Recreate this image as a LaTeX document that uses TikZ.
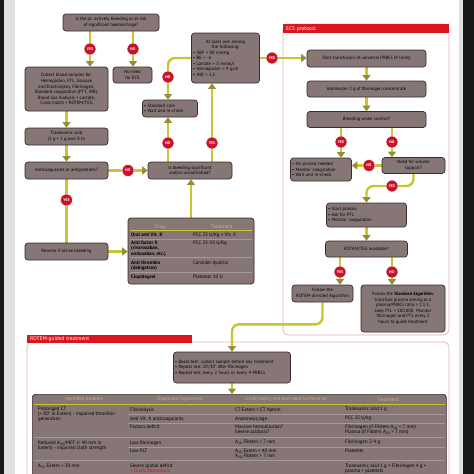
\documentclass[tikz,border=0pt]{standalone}
\usepackage{fontspec}
\setmainfont{PT Sans}
\usepackage{xcolor}
\usetikzlibrary{
	arrows.meta,
	positioning,
	calc,
	backgrounds
}

\definecolor{boxfill}{RGB}{134,119,118}
\definecolor{boxedge}{RGB}{58,44,44}
\definecolor{flowyel}{RGB}{200,198,46}
\definecolor{flowdark}{RGB}{146,144,52}
\definecolor{ynred}{RGB}{200,20,40}
\definecolor{panelred}{RGB}{220,22,32}
\definecolor{panelline}{RGB}{226,170,170}
\definecolor{hdrtext}{RGB}{200,186,112}
\definecolor{rulegray}{RGB}{165,152,150}

\newcommand{\boxfont}{\fontsize{4.6}{5.5}\selectfont}
\newcommand{\tabfont}{\fontsize{4.9}{5.2}\selectfont}

\begin{document}
\begin{tikzpicture}[
	x=1pt, y=-1pt,
	box/.style={
		rectangle,
		rounded corners=3pt,
		draw=boxedge,
		fill=boxfill,
		line width=0.7pt,
		inner sep=1.5pt,
		align=center,
		font=\boxfont
	},
	ynball/.style={
		circle,
		fill=ynred,
		draw=white,
		line width=0.5pt,
		minimum size=12pt,
		inner sep=0pt,
		text=white,
		font=\fontsize{3.8}{4}\selectfont\bfseries
	},
	flow/.style={
		draw=flowyel,
		line width=2.4pt,
		rounded corners=7pt
	},
	cell/.style={
		inner sep=0pt,
		align=left,
		anchor=north west,
		font=\tabfont
	},
	colhead/.style={
		inner sep=0pt,
		font=\tabfont,
		text=hdrtext
	},
	panelhead/.style={
		fill=panelred,
		text=white,
		inner xsep=3pt,
		inner ysep=0pt,
		anchor=north west,
		align=left,
		font=\fontsize{5.4}{6}\selectfont
	},
	tabrule/.style={rulegray, line width=0.4pt},
	>={Triangle[width=8pt,length=5.5pt,color=flowdark]}
]
\useasboundingbox (0,0) rectangle (474,474);
\clip (0,0) rectangle (474,474);

% left column
\node[box, minimum width=96pt, minimum height=17pt] (bleed) at (111,22.5) {Is the pt. actively bleeding or at risk\\of significant haemorrhage?};
\node[box, minimum width=83pt, minimum height=44pt] (samples) at (66.5,89) {Collect blood samples for:\\[1pt]Hemoglobin, PTL, Glucose\\and Electrolytes, Fibrinogen,\\Standard coagulation (PTT, INR),\\Blood Gas Analysis + Lactate,\\Cross match + ROTEM/TEG};
\node[box, minimum width=39pt, minimum height=16pt] (noecs) at (132.5,75) {No need\\for ECS};
\node[box, minimum width=83pt, minimum height=17pt] (tranex) at (66.5,136.5) {Tranexamic acid\\(1 g + 1 g over 8 h)};
\node[box, minimum width=83pt, minimum height=17pt] (anticoag) at (66.5,170.5) {Anticoagulants or antiplatelets?};
\node[box, minimum width=83pt, minimum height=17pt] (reverse) at (66.5,251.5) {Reverse if active bleeding};

% middle column
\node[box, minimum width=84pt, minimum height=17pt] (signif) at (190,170.5) {Is bleeding significant\\and/or uncontrolled?};
\node[box, text width=52pt, minimum height=17pt, align=left] (stdcare) at (170,108.5) {\textbullet\ Standard care\\\textbullet\ Wait and re-check};
\node[box, text width=65pt, minimum height=50pt, align=left] (among) at (225.5,58) {{\centering At least one among\\the following:\par}
\textbullet\ SBP < 90 mmHg\\
\textbullet\ BE < -6\\
\textbullet\ Lactate > 5 mmol/l\\
\textbullet\ Hemoglobin < 9 g/dl\\
\textbullet\ INR > 1.5};

% drug table
\node[box, minimum width=126pt, minimum height=66pt] (drugs) at (191,251) {};
\node[colhead] (dhead) at (160,227) {Drug};
\node[colhead] (thead) at (222,227) {Treatment};
\node[cell, font=\tabfont\bfseries] (dA) at (131,232.5) {Oral anti Vit. K};
\node[cell] (tA) at (193,232.5) {PCC 25 U/Kg + Vit. K};
\node[cell, font=\tabfont\bfseries] (dB) at (131,241) {Anti factor X\\(rivaroxaban,\\endoxaban, etc.)};
\node[cell] (tB) at (193,241) {PCC 25-50 U/Kg};
\node[cell, font=\tabfont\bfseries] (dC) at (131,260.5) {Anti thrombin\\(dabigatran)};
\node[cell] (tC) at (193,260.5) {Consider dyalisis};
\node[cell, font=\tabfont\bfseries] (dD) at (131,274.5) {Clopidogrel};
\node[cell] (tD) at (193,275) {Platelets 10 U};
\draw[flowyel, line width=0.8pt] ($(drugs.north west)+(2,13)$) -- ($(drugs.north east)+(-2,13)$);
\draw[tabrule] ($(drugs.north west)+(2,22)$) -- ($(drugs.north east)+(-2,22)$);
\draw[tabrule] ($(drugs.north west)+(2,40)$) -- ($(drugs.north east)+(-2,40)$);
\draw[tabrule] ($(drugs.north west)+(2,55)$) -- ($(drugs.north east)+(-2,55)$);

% ECS protocol
\node[box, minimum width=119pt, minimum height=17pt] (transf) at (366.5,58.5) {Start transfusion of universal PRBCs (4 Units)};
\node[box, minimum width=119pt, minimum height=16pt] (fibrin) at (366.5,89) {Administer 2 g of fibrinogen concentrate};
\node[box, minimum width=119pt, minimum height=16pt] (control) at (366.5,119.5) {Bleeding under control?};
\node[box, text width=58pt, minimum height=23pt, align=left] (noplasma) at (321,169.5) {\textbullet\ No plasma needed\\\textbullet\ Monitor coagulation\\\textbullet\ Wait and re-check};
\node[box, minimum width=63pt, minimum height=16pt] (volume) at (413.5,165.5) {Need for volume\\support?};
\node[box, text width=77pt, minimum height=24pt, align=left] (startpl) at (366.5,215) {\textbullet\ Start plasma\\\textbullet\ Ask for PTL\\\textbullet\ Monitor coagulation};
\node[box, minimum width=82pt, minimum height=16pt] (rotemav) at (366.5,249) {ROTEM/TEG available?};
\node[box, minimum width=61pt, minimum height=17pt] (follow) at (322.5,293.5) {Follow the\\ROTEM-directed Algorithm};
\node[box, minimum width=84pt, minimum height=47pt] (standard) at (403,308.5) {Follow the \textbf{Standard Algorithm}:\\transfuse plasma aiming at a\\plasma/PRBCs ratio > 1:1.5;\\keep PTL > 100,000. Monitor\\fibrinogen and PTL every 2\\hours to guide treatment};

% ROTEM-guided treatment
\node[box, text width=114pt, minimum height=31pt, align=left] (basal) at (232,367.5) {\textbullet\ Basal test: collect sample before any treatment\\\textbullet\ Repeat test 20'/30' after fibrinogen\\\textbullet\ Repeat test every 2 hours or every 4 PRBCs};
\node[box, anchor=north west, minimum width=414pt, minimum height=110pt] (rtable) at (32,394) {};
\node[colhead] (hc1) at (84,399.5) {Identified problem};
\node[colhead] (hc2) at (180,399.5) {Diagnostic hypothesis};
\node[colhead] (hc3) at (286,399.5) {Confirmatory test and need to check for};
\node[colhead] (hc4) at (388,399.5) {Treatment};
\node[cell] (p1) at (38,406.5) {Prolonged CT\\(> 80" in Extem) - impaired thrombin\\generation};
\node[cell] (p2) at (38,440.5) {Reduced A\textsubscript{10}/MCF (< 40 mm in\\Extem) - impaired cloth strength};
\node[cell] (p3) at (38,463.5) {A\textsubscript{10} Extem < 30 mm};
\node[cell] (h1) at (130,407.5) {Fibrinolysis};
\node[cell] (h2) at (130,416.5) {Anti Vit. K anticoagulants};
\node[cell] (h3) at (130,424.5) {Factors deficit};
\node[cell] (h4) at (130,440.5) {Low fibrinogen};
\node[cell] (h5) at (130,448.5) {Low PLT};
\node[cell] (h6) at (130,463.5) {Severe global deficit\\{\color{ynred}+ Quick fibrinolysis}};
\node[cell] (c1) at (235,407.5) {CT Extem > CT Aptem};
\node[cell] (c2) at (235,416.5) {Anamnesis/age};
\node[cell] (c3) at (235,424.5) {Massive hemodilution?\\Severe acidosis?};
\node[cell] (c4) at (235,439.5) {A\textsubscript{10} Fibtem < 7 mm};
\node[cell] (c5) at (235,448.5) {A\textsubscript{10} Extem < 40 mm\\A\textsubscript{10} Fibtem > 7 mm};
\node[cell] (t1) at (345,406.5) {Tranexamic acid 1 g};
\node[cell] (t2) at (345,415.5) {PCC 25 U/kg};
\node[cell] (t3) at (345,424.5) {Fibrinogen (if Fibtem A\textsubscript{10} < 7 mm)\\Plasma (if Fibtem A\textsubscript{10} > 7 mm)};
\node[cell] (t4) at (345,439.5) {Fibrinogen 2-4 g};
\node[cell] (t5) at (345,448.5) {Platelets};
\node[cell] (t6) at (345,463.5) {Tranexamic acid 1 g + Fibrinogen 4 g +\\plasma + platelets};
\draw[flowyel, line width=0.8pt] ($(rtable.north west)+(2,10)$) -- ($(rtable.north east)+(-2,10)$);
\draw[tabrule] ($(rtable.north west)+(96,20)$) -- ($(rtable.north east)+(-2,20)$);
\draw[tabrule] ($(rtable.north west)+(96,29)$) -- ($(rtable.north east)+(-2,29)$);
\draw[tabrule] ($(rtable.north west)+(2,43)$) -- ($(rtable.north east)+(-2,43)$);
\draw[tabrule] ($(rtable.north west)+(96,53)$) -- ($(rtable.north east)+(-2,53)$);
\draw[tabrule] ($(rtable.north west)+(2,66)$) -- ($(rtable.north east)+(-2,66)$);

% yes / no
\node[ynball] (yesA) at (90,49) {YES};
\node[ynball] (noA) at (133,49) {NO};
\node[ynball] (noB) at (168,77) {NO};
\node[ynball] (yesB) at (272,58) {YES};
\node[ynball] (noC) at (128,170.5) {NO};
\node[ynball] (yesC) at (66.5,200) {YES};
\node[ynball] (noD) at (168,143) {NO};
\node[ynball] (yesD) at (212,143) {YES};
\node[ynball] (yesE) at (341,142) {YES};
\node[ynball] (noE) at (392,142) {NO};
\node[ynball] (noF) at (369,165.5) {NO};
\node[ynball] (yesF) at (392,186) {YES};
\node[ynball] (yesG) at (340,272) {YES};
\node[ynball] (noG) at (392,272) {NO};

\begin{pgfonlayer}{background}
\fill[white] (0,0) rectangle (474,474);
\fill[black!90] (0,0) rectangle (4,474);
\fill[black!12] (4,0) rectangle (15,474);
\fill[black!12] (459,0) rectangle (463,474);
\fill[black!90] (463,0) rectangle (474,474);
\draw[panelline, line width=0.6pt, rounded corners=5pt] (283,24) rectangle (449,335);
\draw[panelline, line width=0.6pt, rounded corners=5pt] (27,342) rectangle (449,520);
\node[panelhead, text width=160pt, minimum height=9pt] (ecshead) at (283,24) {ECS protocol};
\node[panelhead, text width=159pt, minimum height=7.5pt] (rotemhead) at (27,335) {ROTEM-guided treatment};

\draw[flow, ->] (bleed.south -| yesA) -- (samples.north -| yesA);
\draw[flow, ->] (bleed.south -| noA) -- (noecs.north -| noA);
\draw[flow, ->] (samples) -- (tranex);
\draw[flow, ->] (tranex) -- (anticoag);
\draw[flow, ->] (anticoag) -- (signif);
\draw[flow] (anticoag) -- (reverse);
\draw[flow, ->] (reverse.east) -- (reverse.east -| drugs.west);
\draw[flow, ->] (drugs.north) -- (drugs.north |- signif.south);
\draw[flow, ->] (signif.north -| noD) -- (stdcare.south -| noD);
\draw[flow, ->] (signif.north -| yesD) -- (among.south -| yesD);
\draw[flow, ->] (among.west) -| (stdcare.north -| noB);
\draw[flow, ->] (among.east) -- (among.east -| transf.west);
\draw[flow, ->] (transf) -- (fibrin);
\draw[flow, ->] (fibrin) -- (control);
\draw[flow, ->] (control.south -| yesE) -- (noplasma.north -| yesE);
\draw[flow, ->] (control.south -| noE) -- (volume.north -| noE);
\draw[flow, ->] (volume.west) -- (volume.west -| noplasma.east);
\draw[flow, ->] (volume.south) |- (yesF.center) -| (startpl.north);
\draw[flow, ->] (startpl) -- (rotemav);
\draw[flow, ->] (rotemav.south -| yesG) -- (follow.north -| yesG);
\draw[flow, ->] (rotemav.south -| noG) -- (standard.north -| noG);
\draw[flow, ->] (follow.south) -- ++(0,22) -| (basal.north);
\draw[flow, ->] (basal.south) -- (basal.south |- rtable.north);
\end{pgfonlayer}
\end{tikzpicture}
\end{document}
